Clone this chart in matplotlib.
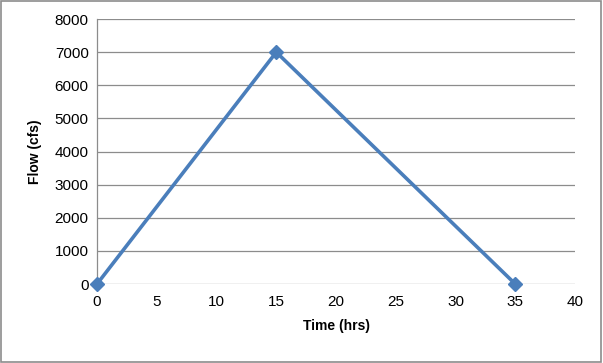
import matplotlib
matplotlib.use("Agg")
import matplotlib.pyplot as plt

time_hrs = [0, 15, 35]
flow_cfs = [0, 7000, 0]
x_ticks = [0, 5, 10, 15, 20, 25, 30, 35, 40]
y_ticks = [0, 1000, 2000, 3000, 4000, 5000, 6000, 7000, 8000]

plt.rcParams['font.family'] = ['Liberation Sans', 'DejaVu Sans']

fig = plt.figure(figsize=(6.03, 3.63), dpi=100)
ax = fig.add_axes([0.1609, 0.2176, 0.7927, 0.7300])

ax.plot(time_hrs, flow_cfs, color='#4A7EBB', linewidth=2.6,
        marker='D', markersize=7, markerfacecolor='#4A7EBB',
        markeredgecolor='#4A7EBB', clip_on=False, zorder=3)

ax.set_xlim(0, 40)
ax.set_ylim(0, 8000)
ax.set_xticks(x_ticks)
ax.set_yticks(y_ticks)
ax.tick_params(axis='both', length=0, labelsize=11, colors='black')
ax.tick_params(axis='x', pad=8)
ax.tick_params(axis='y', pad=6)
ax.grid(axis='y', color='#8c8c8c', linewidth=0.9)
ax.set_axisbelow(True)

for side in ['top', 'right', 'bottom']:
    ax.spines[side].set_visible(False)
ax.spines['left'].set_color('#8c8c8c')
ax.spines['left'].set_linewidth(0.9)

ax.set_xlabel('Time (hrs)', fontsize=10, fontweight='bold', labelpad=7)
ax.set_ylabel('Flow (cfs)', fontsize=10, fontweight='bold', labelpad=9)

fig.patches.append(plt.Rectangle((0.002, 0.003), 0.995, 0.994, transform=fig.transFigure,
                                 fill=False, edgecolor='#8c8c8c', linewidth=1.2))

fig.savefig('out.png', dpi=100)
